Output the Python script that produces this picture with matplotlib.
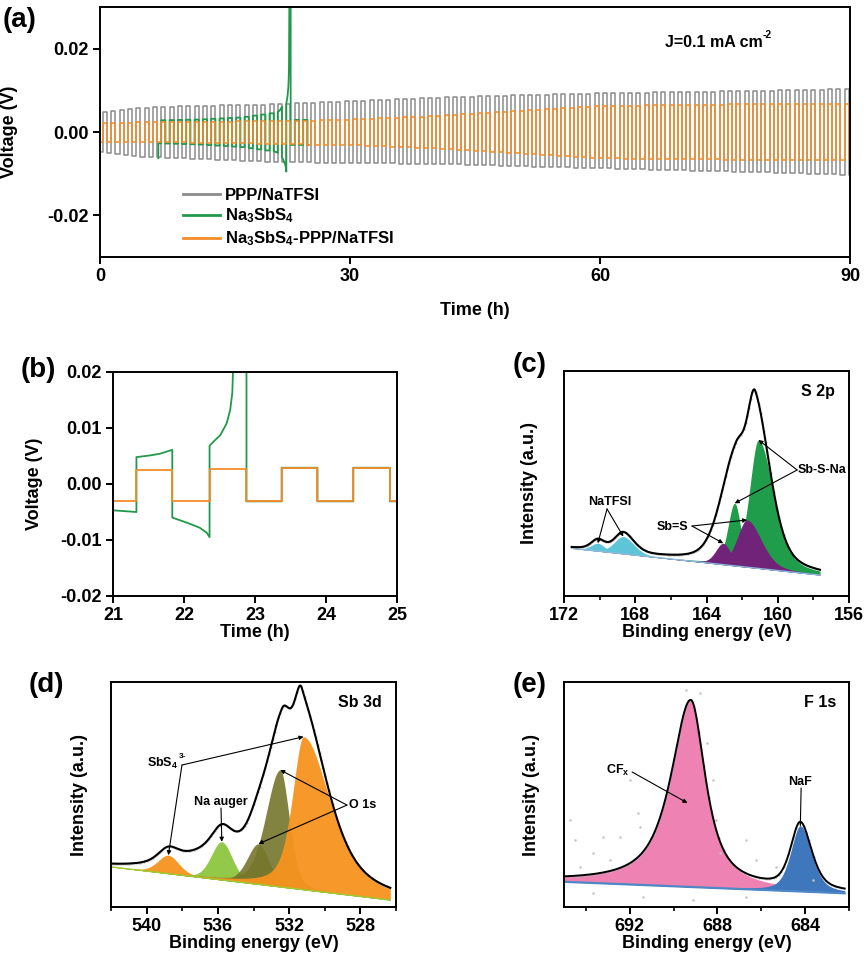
import numpy as np
import matplotlib.pyplot as plt
from matplotlib.ticker import MultipleLocator

plt.rcParams['font.family'] = ['Liberation Sans', 'DejaVu Sans']
plt.rcParams['font.weight'] = 'bold'
plt.rcParams['axes.labelweight'] = 'bold'
plt.rcParams['mathtext.fontset'] = 'custom'
plt.rcParams['mathtext.rm'] = 'Liberation Sans:bold'
plt.rcParams['mathtext.bf'] = 'Liberation Sans:bold'
plt.rcParams['mathtext.it'] = 'Liberation Sans:bold'

# ---- (a) symmetric cell cycling, envelopes of the square waves (V)
ppp_t = [0, 5, 10, 20, 30, 40, 50, 60, 70, 80, 90]
ppp_hi = [0.0046, 0.0058, 0.0062, 0.0066, 0.0074, 0.0082, 0.0088, 0.0093, 0.0096, 0.0099, 0.0103]
ppp_lo = [-0.0047, -0.0059, -0.0063, -0.0071, -0.0075, -0.0076, -0.0082, -0.0087, -0.0092, -0.0097, -0.0103]
comp_t = [0, 10, 20, 25, 30, 40, 50, 60, 70, 80, 90]
comp_hi = [0.0022, 0.0024, 0.0026, 0.0027, 0.0030, 0.0038, 0.0050, 0.0062, 0.0065, 0.0067, 0.0068]
comp_lo = [-0.0023, -0.0025, -0.0028, -0.0030, -0.0031, -0.0039, -0.0051, -0.0063, -0.0065, -0.0067, -0.0068]
nss_t = [7, 12, 17, 20, 21]
nss_hi = [0.0028, 0.0030, 0.0035, 0.0043, 0.0046]
nss_lo = [-0.0027, -0.0030, -0.0036, -0.0044, -0.0047]
nss_first = -0.0063

# ---- (b) zoom 21-25 h
green_b_t = [21.0, 21.33, 21.33, 21.52, 21.66, 21.835, 21.835, 22.04, 22.22, 22.32, 22.36,
             22.36, 22.41, 22.51, 22.60, 22.65, 22.68, 22.69, 22.72, 22.75, 22.88, 22.88,
             23.375, 23.375, 23.88, 23.88, 24.385, 24.385, 24.9, 24.9, 25.0]
green_b_v = [-0.0047, -0.0050, 0.0048, 0.0051, 0.0054, 0.0061, -0.0060, -0.0069, -0.0078,
             -0.0087, -0.0095, 0.0068, 0.0075, 0.0087, 0.0108, 0.0132, 0.0162, 0.0200,
             0.0300, 0.0450, 0.0500, -0.0031, -0.0031, 0.0029, 0.0029, -0.0031, -0.0031,
             0.0029, 0.0029, -0.0031, -0.0031]
orange_b_edges = [21.0, 21.33, 21.835, 22.36, 22.88, 23.375, 23.88, 24.385, 24.9, 25.0]
orange_b_level = [-0.0030, 0.0025, -0.0030, 0.0026, -0.0030, 0.0028, -0.0031, 0.0028, -0.0031]

# ---- XPS peaks: centre (eV), height, HWHM high-BE side, HWHM low-BE side, lorentz fraction
# (c) S 2p
s2p_bg = ([171.57, 157.63], [0.212, 0.093])
tfsi = dict(c=[170.1, 168.67], h=[0.035, 0.077], wl=[0.45, 0.6], wr=[0.45, 0.7], eta=[0.3, 0.3])
sbna = dict(c=[162.42, 161.08], h=[0.278, 0.571], wl=[0.45, 0.6], wr=[0.42, 1.0], eta=[0.3, 0.4])
sbs = dict(c=[163.06, 161.72], h=[0.095, 0.21], wl=[0.5, 0.65], wr=[0.5, 0.95], eta=[0.3, 0.3])
s2p_env = dict(c=[170.1, 168.67, 162.35, 161.25], h=[0.045, 0.09, 0.47, 0.68],
               wl=[0.45, 0.6, 1.0, 0.55], wr=[0.45, 0.7, 0.7, 1.0], eta=[0.4, 0.4, 0.4, 0.4])
# (d) Sb 3d
sb3d_bg = ([542.06, 526.32], [0.179, 0.031])
sbs4 = dict(c=[538.78, 531.19], h=[0.082, 0.68], wl=[0.7, 0.75], wr=[0.7, 1.8], eta=[0.3, 0.6])
auger = dict(c=[535.78], h=[0.17], wl=[0.7], wr=[0.7], eta=[0.2])
o1s = dict(c=[533.72, 532.5], h=[0.18, 0.52], wl=[0.75, 0.95], wr=[0.7, 0.6], eta=[0.3, 0.3])
sb3d_env = dict(c=[538.8, 535.78, 533.75, 532.4, 531.28, 535.2],
                h=[0.055, 0.09, 0.09, 0.58, 0.74, 0.13],
                wl=[0.65, 0.65, 0.7, 1.0, 0.6, 3.2], wr=[0.65, 0.65, 0.7, 0.65, 1.7, 3.2],
                eta=[0.4, 0.4, 0.4, 0.4, 0.6, 0.2])
# (e) F 1s
f1s_bg = ([695.0, 682.2], [0.112, 0.061])
cfx = dict(c=[689.22], h=[0.83], wl=[1.08], wr=[0.8], eta=[0.85])
naf = dict(c=[684.22], h=[0.292], wl=[0.52], wr=[0.6], eta=[0.5])
f1s_dot_e = [694.51, 693.67, 693.22, 694.28, 692.91, 692.46, 692.0, 691.62, 691.54, 689.42,
             688.81, 688.5, 688.2, 688.05, 687.9, 686.68, 686.23, 685.32, 683.65, 693.67,
             691.39, 689.12, 686.68, 694.73]
f1s_dot_y = [0.298, 0.239, 0.312, 0.179, 0.209, 0.312, 0.564, 0.416, 0.357, 0.964, 0.95,
             0.727, 0.564, 0.387, 0.239, 0.298, 0.209, 0.179, 0.12, 0.061, 0.046, 0.031,
             0.046, 0.387]

GRAY = '#8c8c8c'
GREEN = '#22994a'
ORANGE = '#f58c28'

W, H = 867, 961


def box(l, t, r, b):
    return [l / W, 1 - b / H, (r - l) / W, (b - t) / H]


def square_wave(t0, t1, env_t, hi, lo, half=0.5, phase=0.35):
    k0 = int(np.floor((t0 - phase) / half))
    k1 = int(np.ceil((t1 - phase) / half))
    ts, vs = [], []
    for k in range(k0, k1):
        a = max(phase + k * half, t0)
        b = min(phase + (k + 1) * half, t1)
        if b <= a:
            continue
        v = np.interp(0.5 * (a + b), env_t, hi if k % 2 == 0 else lo)
        ts += [a, b]
        vs += [v, v]
    return np.array(ts), np.array(vs)


def peak(e, c, h, wl, wr, eta):
    w = np.where(e >= c, wl, wr)
    x = (e - c) / w
    return h * (eta / (1 + x ** 2) + (1 - eta) * np.exp(-np.log(2) * x ** 2))


def peaks(e, p):
    return [peak(e, *v) for v in zip(p['c'], p['h'], p['wl'], p['wr'], p['eta'])]


def style(ax, size=13):
    for s in ax.spines.values():
        s.set_linewidth(1.4)
    ax.tick_params(direction='out', length=5, width=1.4, labelsize=size, pad=3)
    ax.tick_params(which='minor', direction='out', length=3, width=1.2)


fig = plt.figure(figsize=(W / 100, H / 100), dpi=100)

# ---------------- (a)
ax = fig.add_axes(box(100, 7, 850, 257))
t, v = square_wave(0, 90, ppp_t, ppp_hi, ppp_lo)
ax.plot(t, v, color=GRAY, lw=1.1, label='PPP/NaTFSI')
t, v = square_wave(7, 21, nss_t, nss_hi, nss_lo)
gt = np.concatenate([[7.0], t, green_b_t])
gv = np.concatenate([[nss_first], v, green_b_v])
ax.plot(gt, gv, color=GREEN, lw=1.3, label=r'Na$_3$SbS$_4$')
t, v = square_wave(0, 90, comp_t, comp_hi, comp_lo)
ax.plot(t, v, color=ORANGE, lw=1.1, label=r'Na$_3$SbS$_4$-PPP/NaTFSI')
ax.set_xlim(0, 90)
ax.set_ylim(-0.03, 0.03)
ax.set_xticks([0, 30, 60, 90])
ax.set_yticks([-0.02, 0.0, 0.02])
ax.set_yticklabels(['-0.02', '0.00', '0.02'])
style(ax)
ax.set_xlabel('Time (h)', fontsize=13)
ax.set_ylabel('Voltage (V)', fontsize=13)
ax.xaxis.set_label_coords(0.5, -0.18)
ax.yaxis.set_label_coords(-0.109, 0.5)
leg = ax.legend(loc='upper left', bbox_to_anchor=(0.111, 0.278), frameon=False, fontsize=12,
                handlelength=2.2, handletextpad=0.3, borderpad=0, borderaxespad=0,
                labelspacing=0.25)
for line in leg.get_lines():
    line.set_linewidth(2.0)
jt = ax.text(0.753, 0.86, 'J=0.1 mA cm', transform=ax.transAxes, fontsize=11.5,
             ha='left', va='center')
ax.annotate('-2', xy=(1.0, 0.62), xycoords=jt, fontsize=7.5, ha='left', va='bottom')

# ---------------- (b)
ax = fig.add_axes(box(113, 372, 397, 596))
ax.plot(green_b_t, green_b_v, color=GREEN, lw=1.3)
ot, ov = [], []
for a, b, lv in zip(orange_b_edges[:-1], orange_b_edges[1:], orange_b_level):
    ot += [a, b]
    ov += [lv, lv]
ax.plot(ot, ov, color=ORANGE, lw=1.3)
ax.set_xlim(21, 25)
ax.set_ylim(-0.02, 0.02)
ax.set_xticks([21, 22, 23, 24, 25])
ax.set_yticks([-0.02, -0.01, 0.0, 0.01, 0.02])
ax.set_yticklabels(['-0.02', '-0.01', '0.00', '0.01', '0.02'])
style(ax)
ax.set_xlabel('Time (h)', fontsize=13)
ax.set_ylabel('Voltage (V)', fontsize=13)
ax.xaxis.set_label_coords(0.5, -0.125)
ax.yaxis.set_label_coords(-0.246, 0.5)


def xps_axes(rect, xlim, major, minor, label, label_xy, ylab_x):
    ax = fig.add_axes(rect)
    ax.set_xlim(*xlim)
    ax.set_ylim(0, 1)
    ax.xaxis.set_major_locator(MultipleLocator(major))
    ax.xaxis.set_minor_locator(MultipleLocator(minor))
    ax.set_yticks([])
    style(ax)
    ax.set_xlabel('Binding energy (eV)', fontsize=13)
    ax.set_ylabel('Intensity (a.u.)', fontsize=13)
    ax.xaxis.set_label_coords(0.5, -0.125)
    ax.yaxis.set_label_coords(ylab_x, 0.5)
    ax.text(label_xy[0], label_xy[1], label, transform=ax.transAxes, fontsize=11.5,
            ha='center', va='center')
    return ax


def arrow(ax, origin, target, head=True):
    ax.annotate('', xy=target, xycoords='data', xytext=origin, textcoords='axes fraction',
                arrowprops=dict(arrowstyle='-|>' if head else '-', color='k', lw=0.8,
                                mutation_scale=6, shrinkA=0, shrinkB=0))


# ---------------- (c) S 2p
ax = xps_axes(box(564, 371, 849, 596), (172, 156), 4, 2, 'S 2p', (0.89, 0.907), -0.091)
e = np.linspace(171.57, 157.63, 900)
bgc = lambda x: np.interp(x, s2p_bg[0][::-1], s2p_bg[1][::-1])
bg = bgc(e)
for comp in peaks(e, tfsi):
    ax.fill_between(e, bg, bg + comp, color='#5ec5d8', lw=0)
for comp in peaks(e, sbna):
    ax.fill_between(e, bg, bg + comp, color='#1f9d4a', lw=0)
for comp in peaks(e, sbs):
    ax.fill_between(e, bg, bg + comp, color='#71237a', lw=0)
env = bg + sum(peaks(e, s2p_env))
ax.plot(e, bg, color='#8fb8e0', lw=1.0)
ax.plot(e[::6], env[::6], 'o', ms=1.6, color='#bdbdbd', mec='none', zorder=2)
ax.plot(e, env, color='k', lw=1.5, zorder=3)
ax.text(0.161, 0.418, 'NaTFSI', transform=ax.transAxes, fontsize=9, ha='center', va='center')
for c, h in zip(tfsi['c'], tfsi['h']):
    arrow(ax, (0.151, 0.387), (c, bgc(c) + h))
ax.text(0.821, 0.56, 'Sb-S-Na', transform=ax.transAxes, fontsize=9, ha='left', va='center')
for c, h in zip(sbna['c'], sbna['h']):
    arrow(ax, (0.818, 0.56), (c, bgc(c) + h))
ax.text(0.382, 0.307, 'Sb=S', transform=ax.transAxes, fontsize=9, ha='center', va='center')
for c, h in zip(sbs['c'], sbs['h']):
    arrow(ax, (0.449, 0.311), (c, bgc(c) + h))

# ---------------- (d) Sb 3d
ax = xps_axes(box(111, 682, 396, 907), (542, 526), 4, 2, 'Sb 3d', (0.875, 0.907), -0.081)
e = np.linspace(542.06, 526.32, 900)
bgd = lambda x: np.interp(x, sb3d_bg[0][::-1], sb3d_bg[1][::-1])
bg = bgd(e)
sb_comps = peaks(e, sbs4)
ax.fill_between(e, bg, bg + sb_comps[0], color='#f7931e', lw=0, alpha=0.95)
for comp in peaks(e, auger):
    ax.fill_between(e, bg, bg + comp, color='#8cc63f', lw=0, alpha=0.95)
for comp in peaks(e, o1s):
    ax.fill_between(e, bg, bg + comp, color='#76762c', lw=0, alpha=0.9)
ax.fill_between(e, bg, bg + sb_comps[1], color='#f7931e', lw=0, alpha=0.95)
env = bg + sum(peaks(e, sb3d_env))
ax.plot(e, bg, color='#9acd32', lw=1.0)
ax.plot(e[::6], env[::6], 'o', ms=1.6, color='#bdbdbd', mec='none', zorder=2)
ax.plot(e, env, color='k', lw=1.5, zorder=3)
st = ax.text(0.182, 0.64, r'SbS$_4$', transform=ax.transAxes, fontsize=9, ha='center',
             va='center')
ax.annotate('3-', xy=(1.0, 0.7), xycoords=st, fontsize=6, ha='left', va='bottom')
for c, h in zip(sbs4['c'], sbs4['h']):
    arrow(ax, (0.249, 0.631), (c, bgd(c) + h))
ax.text(0.386, 0.467, 'Na auger', transform=ax.transAxes, fontsize=9, ha='center', va='center')
arrow(ax, (0.386, 0.44), (auger['c'][0], bgd(auger['c'][0]) + auger['h'][0]))
ax.text(0.835, 0.453, 'O 1s', transform=ax.transAxes, fontsize=9, ha='left', va='center')
for c, h in zip(o1s['c'], o1s['h']):
    arrow(ax, (0.828, 0.453), (c, bgd(c) + h))

# ---------------- (e) F 1s
ax = xps_axes(box(564, 682, 849, 907), (695, 682), 4, 2, 'F 1s', (0.9, 0.907), -0.084)
e = np.linspace(695.0, 682.2, 900)
bgf = lambda x: np.interp(x, f1s_bg[0][::-1], f1s_bg[1][::-1])
bg = bgf(e)
pink = peaks(e, cfx)[0]
blue = peaks(e, naf)[0]
ax.fill_between(e, bg, bg + pink, color='#ee82b3', lw=0)
ax.fill_between(e, bg, bg + blue, color='#3f77bc', lw=0)
ax.plot(e, bg, color='#4f86c6', lw=1.6)
env = bg + pink + blue
ax.plot(f1s_dot_e, f1s_dot_y, 'o', ms=1.8, color='#c4c4c4', mec='none', zorder=2)
ax.plot(e[::8], env[::8], 'o', ms=1.6, color='#bdbdbd', mec='none', zorder=2)
ax.plot(e, env, color='k', lw=1.4, zorder=3)
ax.text(0.189, 0.609, r'CF$_x$', transform=ax.transAxes, fontsize=9, ha='center', va='center')
arrow(ax, (0.239, 0.6), (cfx['c'][0] + 0.15, bgf(cfx['c'][0]) + 0.45 * cfx['h'][0]))
ax.text(0.828, 0.556, 'NaF', transform=ax.transAxes, fontsize=9, ha='center', va='center')
arrow(ax, (0.832, 0.529), (naf['c'][0], bgf(naf['c'][0]) + naf['h'][0]), head=False)

# panel letters
for s, x, y in [('(a)', 20, 20), ('(b)', 38, 370), ('(c)', 530, 365), ('(d)', 46, 685),
                ('(e)', 530, 685)]:
    fig.text(x / W, 1 - y / H, s, fontsize=20, ha='center', va='center')

fig.savefig('out.png', dpi=100)
